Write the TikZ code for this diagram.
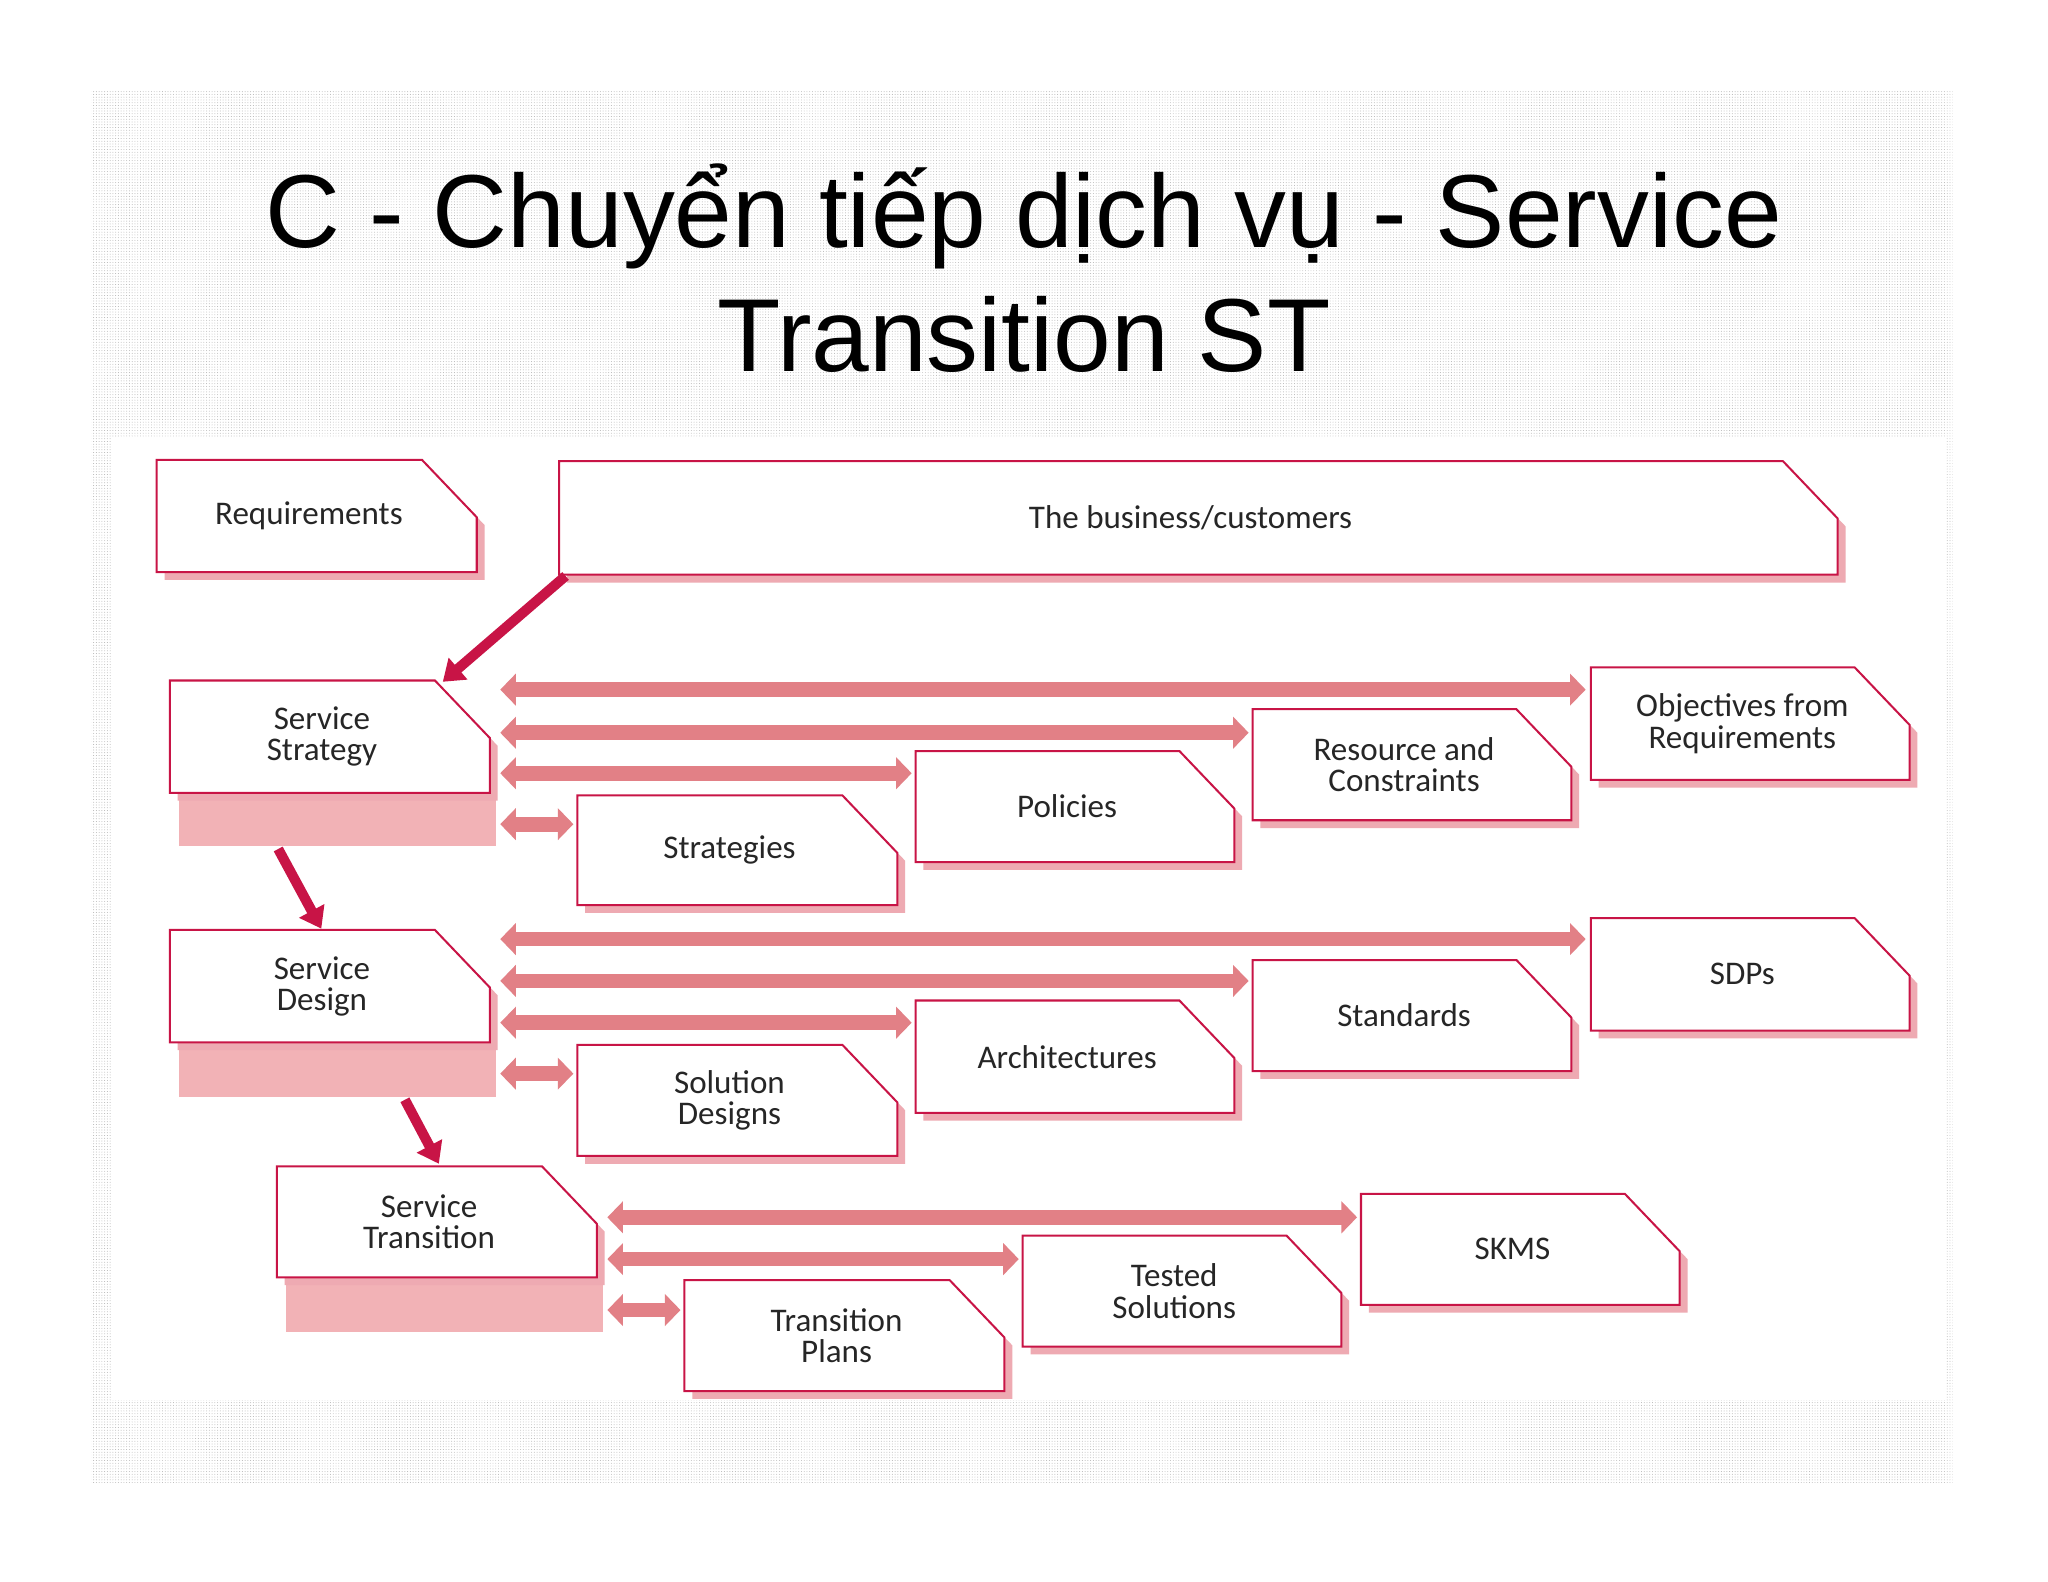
\documentclass[tikz,border=0pt]{standalone}
\usepackage{fontspec}
\setmainfont{Liberation Sans}
\newfontfamily\boxfont{Carlito}
\usetikzlibrary{arrows.meta,patterns}
\definecolor{crim}{RGB}{200,20,70}
\definecolor{pinkarr}{RGB}{226,128,134}
\definecolor{shad}{RGB}{238,170,178}
\definecolor{barpink}{RGB}{242,178,182}
\tikzset{
  boxline/.style={draw=crim,line width=2.2pt,fill=white},
  boxshadow/.style={fill=shad},
  lbl/.style={font=\boxfont\fontsize{36}{34}\selectfont,align=center,text=black!85},
  dbl/.style={draw=pinkarr,line width=16pt,{Triangle[length=17pt,width=34pt]}-{Triangle[length=17pt,width=34pt]}},
  flow/.style={draw=crim,line width=11pt,-{Triangle[length=22pt,width=30pt]}}
}
\newcommand{\cbox}[6]{%
  \fill[boxshadow] (#2+6,#3+6) -- (#4-42+6,#3+6) -- (#4+6,#3+44+6) -- (#4+6,#5+6) -- (#2+6,#5+6) -- cycle;
  \draw[boxline] (#2,#3) -- (#4-42,#3) -- (#4,#3+44) -- (#4,#5) -- (#2,#5) -- cycle;
  \node[lbl] (#1) at ({(#2+#4)/2-6},{(#3+#5)/2}) {#6};
  \coordinate (#1-w) at (#2,{(#3+#5)/2});
}
\begin{document}
\begin{tikzpicture}[x=0.05cm,y=-0.05cm]
\useasboundingbox (0,0) rectangle (1568,1211);
\fill[white] (0,0) rectangle (1568,1211);
\fill[pattern=dots,pattern color=black!30] (70,70) rectangle (1495,1135);
\fill[white] (86,335) rectangle (1490,1072);
\node[font=\fontsize{113}{135}\selectfont,align=center] (title) at (784,205) {C - Chuyển tiếp dịch vụ - Service\\Transition ST};
% pink bars
\fill[barpink] (137,607) rectangle (380,648);
\fill[barpink] (137,798) rectangle (380,840);
\fill[barpink] (219,978) rectangle (462,1020);
\cbox{req}{120}{352}{365}{438}{Requirements}
\cbox{bus}{428}{353}{1407}{440}{The business/customers}
\cbox{ss}{130}{521}{375}{607}{Service\\Strategy}
\cbox{sd}{130}{712}{375}{798}{Service\\Design}
\cbox{st}{212}{893}{457}{978}{Service\\Transition}
\cbox{strat}{442}{609}{687}{693}{Strategies}
\cbox{pol}{701}{575}{945}{660}{Policies}
\cbox{res}{959}{543}{1203}{628}{Resource and\\Constraints}
\cbox{obj}{1218}{511}{1462}{597}{Objectives from\\Requirements}
\cbox{sol}{442}{800}{687}{885}{Solution\\Designs}
\cbox{arch}{701}{766}{945}{852}{Architectures}
\cbox{std}{959}{735}{1203}{820}{Standards}
\cbox{sdp}{1218}{703}{1462}{789}{SDPs}
\cbox{tp}{524}{980}{769}{1065}{Transition\\Plans}
\cbox{ts}{783}{946}{1027}{1031}{Tested\\Solutions}
\cbox{skms}{1042}{914}{1286}{999}{SKMS}
% double arrows
\coordinate (a1) at (383,528); \coordinate (b1) at (1214,528);
\coordinate (a2) at (383,561); \coordinate (b2) at (956,561);
\coordinate (a3) at (383,592); \coordinate (b3) at (698,592);
\coordinate (a4) at (383,631); \coordinate (b4) at (439,631);
\draw[dbl] (a1) -- (b1); \draw[dbl] (a2) -- (b2); \draw[dbl] (a3) -- (b3); \draw[dbl] (a4) -- (b4);
\coordinate (c1) at (383,719); \coordinate (d1) at (1214,719);
\coordinate (c2) at (383,751); \coordinate (d2) at (956,751);
\coordinate (c3) at (383,783); \coordinate (d3) at (698,783);
\coordinate (c4) at (383,822); \coordinate (d4) at (439,822);
\draw[dbl] (c1) -- (d1); \draw[dbl] (c2) -- (d2); \draw[dbl] (c3) -- (d3); \draw[dbl] (c4) -- (d4);
\coordinate (e1) at (465,932); \coordinate (f1) at (1039,932);
\coordinate (e2) at (465,964); \coordinate (f2) at (780,964);
\coordinate (e3) at (465,1003); \coordinate (f3) at (521,1003);
\draw[dbl] (e1) -- (f1); \draw[dbl] (e2) -- (f2); \draw[dbl] (e3) -- (f3);
% flow arrows
\coordinate (g0) at (433,441); \coordinate (g1) at (339,522);
\coordinate (h0) at (213,650); \coordinate (h1) at (246,711);
\coordinate (i0) at (310,842); \coordinate (i1) at (336,891);
\draw[flow] (g0) -- (g1); \draw[flow] (h0) -- (h1); \draw[flow] (i0) -- (i1);
\end{tikzpicture}
\end{document}
